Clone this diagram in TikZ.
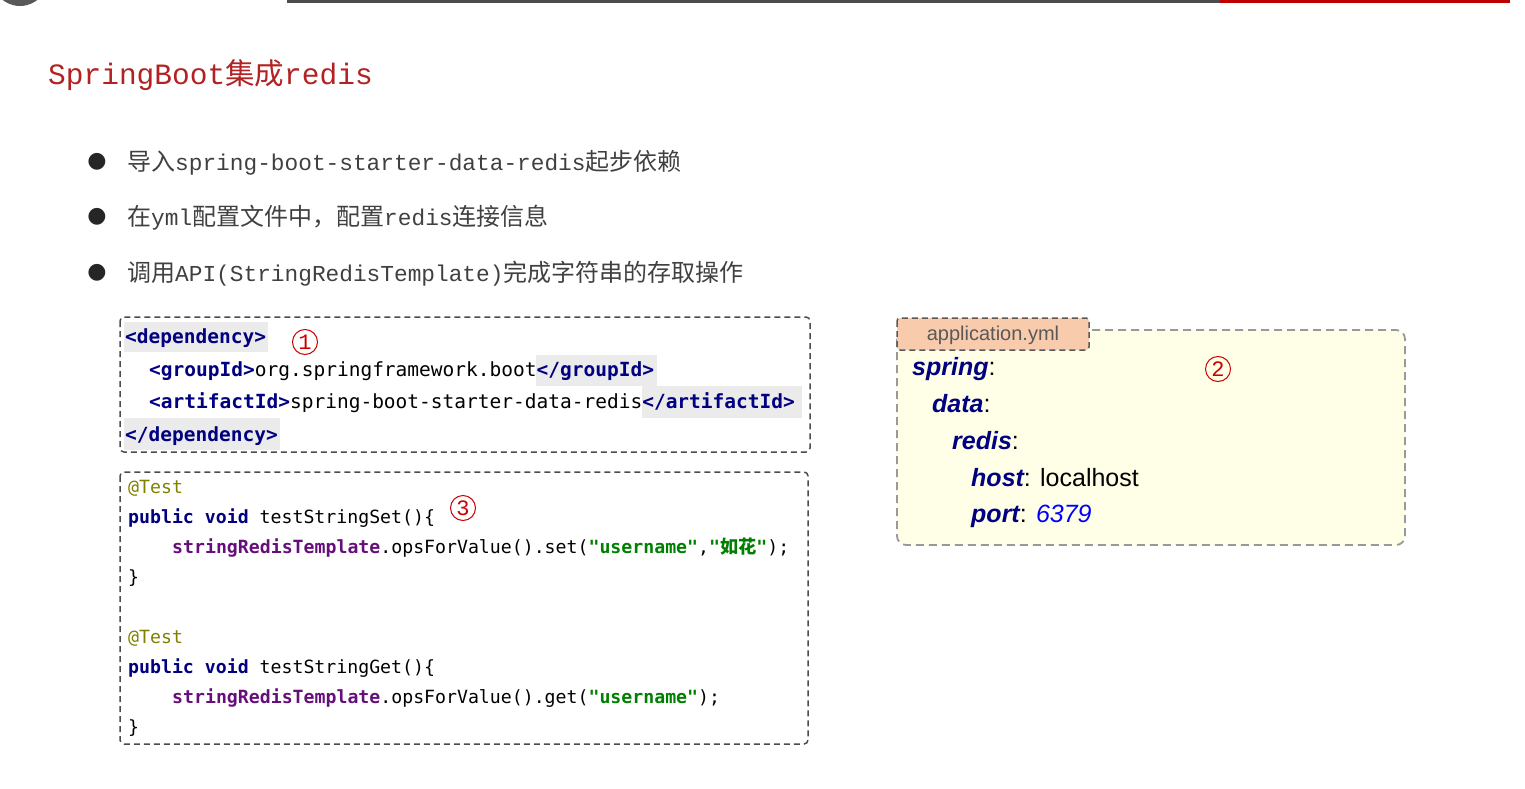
\documentclass[tikz,border=0pt]{standalone}
\usepackage{fontspec}
\setmainfont{Liberation Serif}
\newfontfamily\cjk{Noto Sans CJK SC}
\newfontfamily\lmono{Liberation Mono}
\newfontfamily\cmono{DejaVu Sans Mono}
\newfontfamily\dsans{DejaVu Sans}
\newfontfamily\usans{Liberation Sans}
\definecolor{tagc}{HTML}{000080}
\definecolor{annc}{HTML}{808000}
\definecolor{purp}{HTML}{660E7A}
\definecolor{strc}{HTML}{008000}
\definecolor{txt}{HTML}{404040}
\definecolor{yfill}{HTML}{FFFFE8}
\definecolor{tabf}{HTML}{F8CBAD}
\definecolor{ttl}{HTML}{B22222}
\newcommand{\tg}[1]{\textcolor{tagc}{\bfseries #1}}
\newcommand{\zh}[1]{{\cjk\fontsize{24}{26}\selectfont #1}}
\begin{document}
\begin{tikzpicture}[x=1pt,y=-1pt,
  cl/.style={anchor=base west,inner sep=0pt,font=\cmono\fontsize{19.5}{22}\selectfont},
  cs/.style={anchor=base west,inner sep=0pt,font=\cmono\fontsize{18.2}{20}\selectfont},
  bl/.style={anchor=base west,inner sep=0pt,text=txt,font=\lmono\fontsize{22.8}{26}\selectfont},
  yl/.style={anchor=base west,inner sep=0pt,text=tagc,font=\usans\bfseries\itshape\fontsize{25}{28}\selectfont},
  num/.style={circle,draw=red!80!black,line width=1pt,inner sep=0pt,minimum size=25pt,text=red!80!black,font=\lmono\fontsize{22}{22}\selectfont},
  codebox/.style={draw=black!70,dash pattern=on 6pt off 4pt,line width=1.5pt,rounded corners=4pt}]
\useasboundingbox (0,0) rectangle (1525,789);
% top decoration
\fill[gray!70!black] (20,-22) circle (28);
\draw[line width=3pt,color=black!70] (287,1.5) -- (1220,1.5);
\draw[line width=3pt,color=red!75!black] (1220,1.5) -- (1510,1.5);
% title
\node[anchor=base west,inner sep=0pt,text=ttl,font=\lmono\fontsize{29.5}{30}\selectfont] (title) at (48,85) {SpringBoot{\cjk 集成}redis};
% bullets
\foreach \y/\n in {162/a,217/b,273/c}{\node[inner sep=0pt,font=\dsans\fontsize{22}{22}\selectfont,text=black!85] (dot\n) at (97,\y) {●};}
\node[bl] (b1) at (127,170) {\zh{导入}spring-boot-starter-data-redis\zh{起步依赖}};
\node[bl] (b2) at (127,225) {\zh{在}yml\zh{配置文件中，配置}redis\zh{连接信息}};
\node[bl] (b3) at (127,281) {\zh{调用}API(StringRedisTemplate)\zh{完成字符串的存取操作}};
% box 1
\fill[black!8] (124,322) rectangle (268,352);
\fill[black!8] (536,355) rectangle (657,386);
\fill[black!8] (642,386) rectangle (802,418);
\fill[black!8] (124,418) rectangle (280,450);
\draw[codebox] (120,317) rectangle (810,452);
\node[cl] (d1) at (125,343) {\tg{<dependency>}};
\node[cl] (d2) at (149,376) {\tg{<groupId>}org.springframework.boot\tg{</groupId>}};
\node[cl] (d3) at (149,408) {\tg{<artifactId>}spring-boot-starter-data-redis\tg{</artifactId>}};
\node[cl] (d4) at (125,441) {\tg{</dependency>}};
\node[num] (n1) at (305,342) {1};
% box 3
\draw[codebox] (120,472) rectangle (808,744);
\node[cs,text=annc] (t1) at (128,493) {@Test};
\node[cs] (t2) at (128,523) {\tg{public void} testStringSet()\{};
\node[cs] (t3) at (172,553) {\textcolor{purp}{\bfseries stringRedisTemplate}.opsForValue().set(\textcolor{strc}{\bfseries "username"},\textcolor{strc}{\bfseries "{\cjk 如花}"});};
\node[cs] (t4) at (128,583) {\}};
\node[cs,text=annc] (t5) at (128,643) {@Test};
\node[cs] (t6) at (128,673) {\tg{public void} testStringGet()\{};
\node[cs] (t7) at (172,703) {\textcolor{purp}{\bfseries stringRedisTemplate}.opsForValue().get(\textcolor{strc}{\bfseries "username"});};
\node[cs] (t8) at (128,733) {\}};
\node[num] (n3) at (463,508) {3};
% yml box
\draw[draw=black!40,fill=yfill,dash pattern=on 8pt off 5pt,line width=1.8pt,rounded corners=9pt] (897,330) rectangle (1405,545);
\draw[draw=black!65,fill=tabf,dash pattern=on 6pt off 4pt,line width=1.5pt,rounded corners=3pt] (897,318) rectangle (1089,350);
\node[inner sep=0pt,text=black!65,font=\usans\fontsize{20}{22}\selectfont] (tab) at (993,335) {application.yml};
\node[yl] (y1) at (912,375) {spring\textcolor{black}{\mdseries\upshape :}};
\node[yl] (y2) at (932,412) {data\textcolor{black}{\mdseries\upshape :}};
\node[yl] (y3) at (952,449) {redis\textcolor{black}{\mdseries\upshape :}};
\node[yl] (y4) at (971,486) {host\textcolor{black}{\mdseries\upshape : localhost}};
\node[yl] (y5) at (971,522) {port\textcolor{black}{\mdseries\upshape :} \textcolor{blue}{\mdseries 6379}};
\node[num] (n2) at (1218,369) {2};
\end{tikzpicture}
\end{document}
